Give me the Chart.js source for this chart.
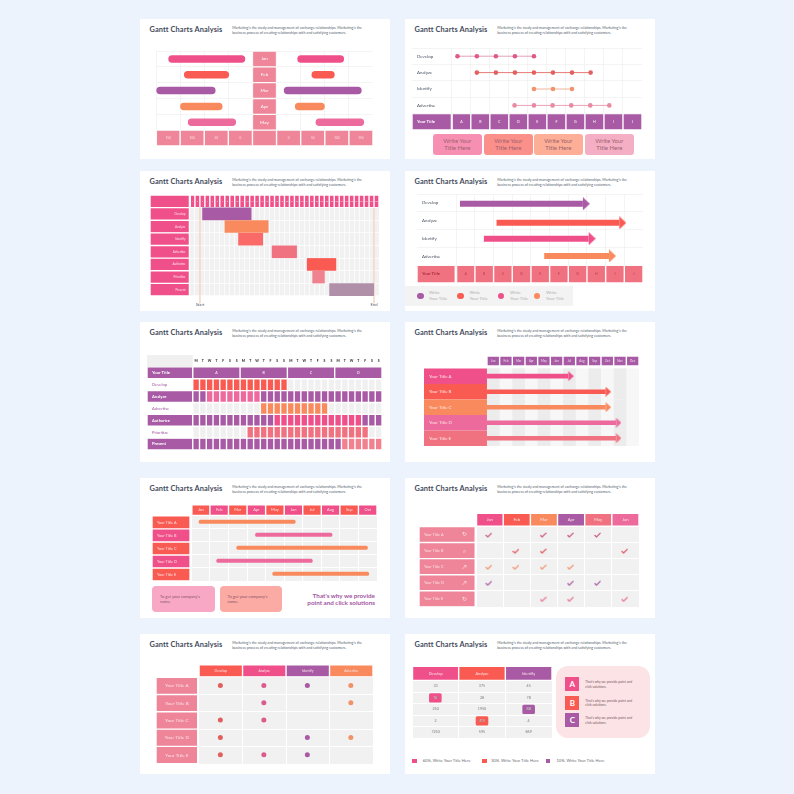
<!DOCTYPE html>
<html>
<head>
<meta charset="utf-8">
<title>Gantt Charts Analysis</title>
<script src="https://cdn.jsdelivr.net/npm/chart.js@4/dist/chart.umd.min.js"></script>
<style>
  html, body { margin: 0; padding: 0; background: #edf3fc; }
  #page { position: relative; width: 794px; height: 794px; overflow: hidden; font-family: Lato, sans-serif; }
  #page canvas { position: absolute; }
  .card, .box { position: absolute; }
  .card { background: #fff; width: 250px; height: 140px; }
  .note { position: absolute; white-space: pre; transform: translateY(-50%); }
</style>
</head>
<body>
<div id="page"></div>
<script>
// slide 1: two sided month bars
const months5 = ['Jan', 'Feb', 'Mar', 'Apr', 'May'];
const sideTicks = ['150', '100', '50', '0', '', '0', '50', '100', '150'];
const leftBars = [[0.51, 3.7], [1.16, 3.03], [0, 2.47], [1, 2.76], [1.32, 3.32]];
const rightBars = [[5.86, 7.8], [6.45, 7.41], [5.3, 8.53], [5.76, 7], [6.62, 8.63]];

// slide 2: milestones
const tasks4 = ['Develop', 'Analyze', 'Identify', 'Advertise'];
const lettersAJ = ['A', 'B', 'C', 'D', 'E', 'F', 'G', 'H', 'I', 'J'];
const developDots = [0.3, 1.32, 2.32, 3.32, 4.32];
const analyzeDots = [1.32, 2.32, 3.32, 4.32, 5.32, 6.32, 7.3];
const identifyDots = [4.32, 5.32, 6.32];
const advertiseDots = [3.3, 4.32, 5.3, 6.28, 7.28, 8.28];

// slide 3: day grid
const days38 = Array.from({ length: 38 }, (_, i) => String(i + 1));
const tasks7 = ['Develop', 'Analyze', 'Identify', 'Advertise', 'Authorize', 'Prioritize', 'Present'];
const dayBars = [[2.47, 12.37], [6.96, 15.79], [9.7, 14.7], [16.45, 21.5], [23.5, 29.4], [24.6, 27.1], [28, 37]];
const startDay = 2;
const endDay = 37;

// slide 4: arrows
const arrowBars = [[0.2, 6.78], [2.16, 8.73], [1.48, 7.09], [4.71, 8.18]];
const arrowRows = [0.55, 1.62, 2.51, 3.48];

// slide 5: weekly cells
const weekDays = 'MTWTFSSMTWTFSSMTWTFSSMTWTFSS'.split('');
const weekGroups = ['A', 'B', 'C', 'D'];
const weekTasks = ['Develop', 'Analyze', 'Advertise', 'Authorize', 'Prioritize', 'Present'];
const weekFrom = [0, 2, 10, 12, 8, 22];
const weekTo = [14, 10, 20, 25, 26, 28];

// slide 6: yearly arrows
const months12 = ['Jan', 'Feb', 'Mar', 'Apr', 'May', 'Jun', 'Jul', 'Aug', 'Sep', 'Oct', 'Nov', 'Dec'];
const titlesAE = ['Your Title A', 'Your Title B', 'Your Title C', 'Your Title D', 'Your Title E'];
const yearArrowEnds = [6.42, 9.37, 9.37, 10.18, 10.18];
const shadedMonths = [0, 2, 4, 6, 8, 10];

// slide 7: thin bars
const months10 = months12.slice(0, 10);
const thinBars = [[0.4, 5.61], [3.44, 7.59], [2.43, 9.5], [1.35, 6.53], [4.37, 9.57]];

// slide 8: check table
const months6 = months12.slice(0, 6);
const rowIcons = ['\u21BB', '\u2315', '\u2197', '\u2197', '\u21BB'];
const checkCols = [[0, 2, 3, 4], [1, 2, 5], [0, 1, 2, 3], [0, 3, 4], [2, 3, 5]];

// slide 9: dot table
const dotRowsDevelop = [0, 2, 3, 4];
const dotRowsAnalyze = [0, 1, 2, 4];
const dotRowsIdentify = [0, 3, 4];
const dotRowsAdvertise = [0, 1, 3];

// slide 10: number table
const tasks3 = ['Develop', 'Analyze', 'Identify'];
const tableDevelop = ['33', '76', '250', '2', '7250'];
const tableAnalyze = ['375', '28', '1950', '670', '595'];
const tableIdentify = ['45', '78', '334', '4', '869'];
const legendShares = ['60%', '30%', '10%'];

const PINK = '#f0508a', CORAL = '#f95b52', PURPLE = '#a85aa5', ORANGE = '#f98a5e';
const PINK2 = '#ec6a9c', SALMON = '#f0717f', ROSE = '#ee8599', GREY = '#f1f1f1';
const FONT = 'Lato, sans-serif';

const page = document.getElementById('page');

// draws the text of each bar inside the bar
const cellText = {
  id: 'cellText',
  afterDatasetsDraw(chart) {
    const ctx = chart.ctx;
    chart.data.datasets.forEach((ds, i) => {
      if (!ds.texts) return;
      chart.getDatasetMeta(i).data.forEach((el, j) => {
        if (!ds.texts[j]) return;
        const { x, y, base } = el.getProps(['x', 'y', 'base'], true);
        const l = Math.min(x, base), r = Math.max(x, base);
        const align = ds.textAlign || 'center';
        const pad = ds.textPad || 0;
        ctx.save();
        ctx.font = (ds.textWeight || 400) + ' ' + (ds.textSize || 4.5) + 'px ' + FONT;
        ctx.fillStyle = ds.textColor || '#fff';
        ctx.textAlign = align;
        ctx.textBaseline = 'middle';
        ctx.fillText(ds.texts[j], align === 'center' ? (l + r) / 2 : align === 'left' ? l + pad : r - pad, y);
        ctx.restore();
      });
    });
  }
};

// grey plot background, so that the white grid shows on it
const plotFill = {
  id: 'plotFill',
  beforeDraw(chart, args, opts) {
    if (!opts.color) return;
    const sx = chart.scales.x, sy = chart.scales.y;
    chart.ctx.fillStyle = opts.color;
    chart.ctx.fillRect(sx.getPixelForValue(opts.x[0]), sy.getPixelForValue(opts.y[0]),
      sx.getPixelForValue(opts.x[1]) - sx.getPixelForValue(opts.x[0]),
      sy.getPixelForValue(opts.y[1]) - sy.getPixelForValue(opts.y[0]));
  }
};

// thickness comes from maxBarThickness, panel() sets it to one row unless given
function bars(ranges, rows, color, extra) {
  return Object.assign({
    type: 'bar', grouped: false, barPercentage: 1000, categoryPercentage: 1, borderSkipped: false,
    data: ranges.map((r, i) => ({ x: r, y: rows[i] })), backgroundColor: color
  }, extra);
}

function dots(xs, ys, color, extra) {
  return Object.assign({
    type: 'scatter', indexAxis: 'x', data: xs.map((x, i) => ({ x, y: ys[i] })),
    pointBackgroundColor: color, pointBorderWidth: 0, pointRadius: 2.5, pointHoverRadius: 2.5, clip: false
  }, extra);
}

const halves = (list) => list.map((_, i) => i + 0.5);
const cell = { borderColor: '#fff', borderWidth: 0.7 };
const spanCells = (from, to) => { const o = []; for (let c = from; c < to; c++) o.push([c, c + 1]); return o; };

function arrowHead(w, h, color) {
  const c = document.createElement('canvas');
  c.width = w * 2; c.height = h;
  const g = c.getContext('2d');
  g.fillStyle = color;
  g.beginPath(); g.moveTo(w, 0); g.lineTo(w * 2, h / 2); g.lineTo(w, h); g.fill();
  return c;
}

function checkMark(color) {
  const c = document.createElement('canvas');
  c.width = 7; c.height = 6;
  const g = c.getContext('2d');
  g.strokeStyle = color; g.lineWidth = 1.2;
  g.beginPath(); g.moveTo(0.6, 3); g.lineTo(2.5, 5); g.lineTo(6.5, 0.8); g.stroke();
  return c;
}

function panel(cfg) {
  const [left, top, width, height] = cfg.box;
  const canvas = document.createElement('canvas');
  canvas.width = width; canvas.height = height;
  canvas.style.left = left + 'px'; canvas.style.top = top + 'px';
  page.appendChild(canvas);
  const rowPx = height / (cfg.y[1] - cfg.y[0]);
  cfg.sets.forEach((s) => { if (s.type === 'bar' && !s.maxBarThickness) s.maxBarThickness = rowPx; });
  const g = cfg.grid;
  const axis = (range, on, lo, hi) => ({
    type: 'linear', min: range[0], max: range[1], offset: false,
    ticks: { display: false, stepSize: 1, autoSkip: false },
    border: { display: false },
    grid: on ? {
      offset: false, drawTicks: false, lineWidth: g.width || 0.7,
      color: (c) => (!c.tick || c.tick.value < lo || c.tick.value > hi || !Number.isInteger(c.tick.value)) ? 'transparent' : g.color
    } : { display: false, offset: false, drawTicks: false }
  });
  new Chart(canvas, {
    type: 'bar',
    data: { datasets: cfg.sets.slice().reverse() }, // first drawn goes last
    plugins: [plotFill, cellText],
    options: {
      responsive: false, animation: false, indexAxis: 'y',
      events: [], layout: { padding: 0, autoPadding: false },
      plugins: { legend: { display: false }, tooltip: { enabled: false }, plotFill: cfg.fill || {} },
      scales: {
        x: axis(cfg.x, !!g, g ? g.xFrom : 0, g ? g.xTo : 0),
        y: Object.assign(axis(cfg.y, !!g, g ? g.yFrom : 0, g ? g.yTo : 0), { reverse: true })
      }
    }
  });
}

function box(x, y, w, h, color, radius) {
  const d = document.createElement('div');
  d.className = 'box';
  d.style.cssText = `left:${x}px;top:${y}px;width:${w}px;height:${h}px;background:${color};border-radius:${radius || 0}px`;
  page.appendChild(d);
}

function note(x, y, text, size, color, extra) {
  const d = document.createElement('div');
  d.className = 'note';
  d.textContent = text;
  d.style.cssText = `left:${x}px;top:${y}px;font-size:${size}px;color:${color};line-height:1.3;${extra || ''}`;
  page.appendChild(d);
}

// cards and their headings
const cardX = [140, 405];
const cardY = [19, 171, 322, 478, 634];
cardY.forEach((y) => cardX.forEach((x) => {
  const d = document.createElement('div');
  d.className = 'card';
  d.style.left = x + 'px'; d.style.top = y + 'px';
  page.appendChild(d);
  note(x + 9.5, y + 11, 'Gantt Charts Analysis', 7.4, '#3f4b5c', 'font-weight:700;letter-spacing:.1px');
  note(x + 92.3, y + 10.8, "Marketing's the study and management of exchange relationships. Marketing's the\nbusiness process of creating relationships with and satisfying customers.", 3.62, '#55606e', 'line-height:5px');
}));

// slide 1
panel({
  box: [156, 51, 217, 95], x: [0, 9], y: [0, 6],
  grid: { color: '#efefef', xFrom: 0, xTo: 9, yFrom: 0, yTo: 6 },
  sets: [
    bars(months5.map(() => [4, 5]), halves(months5), ROSE, Object.assign({ texts: months5, textSize: 4.6 }, cell)),
    bars(sideTicks.map((_, i) => [i, i + 1]), sideTicks.map(() => 5.5), ROSE, Object.assign({ texts: sideTicks, textSize: 3, textColor: '#fbdfe5' }, cell)),
    bars(leftBars, halves(months5), [PINK, CORAL, PURPLE, ORANGE, PINK2], { maxBarThickness: 7.5, borderRadius: 4 }),
    bars(rightBars, halves(months5), [PINK, CORAL, PURPLE, ORANGE, PINK2], { maxBarThickness: 7.5, borderRadius: 4 })
  ]
});

// slide 2
const lineDots = (xs, row, color, line) => dots(xs, xs.map(() => row), color, { showLine: true, borderColor: line, borderWidth: 1, pointRadius: 2.3 });
panel({
  box: [412, 48, 230, 82], x: [-2.09, 10], y: [0, 5],
  grid: { color: '#efefef', xFrom: 0, xTo: 10, yFrom: 0, yTo: 5 },
  sets: [
    bars(tasks4.map(() => [-2.09, 0]), halves(tasks4), 'transparent', { texts: tasks4, textAlign: 'left', textPad: 5, textSize: 4.4, textColor: '#46505e' }),
    bars(lettersAJ.map((_, i) => [i, i + 1]), lettersAJ.map(() => 4.5), PURPLE, Object.assign({ texts: lettersAJ, textSize: 3.6 }, cell)),
    bars([[-2.09, 0]], [4.5], PURPLE, Object.assign({ texts: ['Your Title'], textSize: 4.2, textWeight: 700, textAlign: 'left', textPad: 5 }, cell)),
    lineDots(developDots, 0.5, '#e0588a', '#e3a0ba'),
    lineDots(analyzeDots, 1.5, '#e4605f', '#e77a78'),
    lineDots(identifyDots, 2.5, '#f0936a', '#f2b398'),
    lineDots(advertiseDots, 3.5, '#e88aa0', '#eaa3b4')
  ]
});
[[433, '#f78fb3'], [484, '#fb8f8a'], [534, '#fcae96'], [585, '#f5afc5']].forEach(([x, color]) => {
  box(x, 133.5, 48.7, 21.5, color, 3);
  note(x, 144.2, 'Write Your\nTitle Here', 6, '#a0616e', 'width:48.7px;text-align:center;line-height:7.3px');
});

// slide 3
panel({
  box: [150, 195, 229, 114], x: [-8.03, 38], y: [0, 9.03],
  fill: { color: GREY, x: [0, 38], y: [1, 8] },
  grid: { color: '#fff', xFrom: 0, xTo: 38, yFrom: 1, yTo: 8 },
  sets: [
    bars(days38.map((_, i) => [i, i + 1]), days38.map(() => 0.5), PINK, Object.assign({ texts: days38, textSize: 2.2, textColor: '#fcd4e2' }, cell)),
    bars([[-8.03, -0.1]], [0.5], PINK, cell),
    bars(tasks7.map(() => [-8.03, -0.1]), tasks7.map((_, i) => i + 1.5), PINK, Object.assign({ texts: tasks7, textSize: 3, textAlign: 'right', textPad: 4, textColor: '#fde3ec' }, cell)),
    dots([startDay, startDay], [1, 8.6], '#f4c7b0', { showLine: true, borderColor: '#f6d8c8', borderWidth: 0.8, pointRadius: 0 }),
    dots([endDay, endDay], [1, 8.6], '#f4c7b0', { showLine: true, borderColor: '#f6d8c8', borderWidth: 0.8, pointRadius: 0 }),
    bars(dayBars, tasks7.map((_, i) => i + 1.5), [PURPLE, ORANGE, '#fa6a68', SALMON, CORAL, '#f0818f', '#b08fa8']),
    bars([[startDay - 2, startDay + 2], [endDay - 1, endDay + 1]], [8.72, 8.72], 'transparent', { texts: ['Start', 'End'], textSize: 4.2, textColor: '#555f6c' })
  ]
});

// slide 4
const arrowColors = [PURPLE, CORAL, PINK, ORANGE];
panel({
  box: [417, 194, 226, 89], x: [-2.1, 10], y: [0, 5],
  grid: { color: '#efefef', xFrom: 0, xTo: 10, yFrom: 0, yTo: 5 },
  sets: [
    bars(tasks4.map(() => [-2.1, 0]), halves(tasks4), 'transparent', { texts: tasks4, textAlign: 'left', textPad: 5, textSize: 4.4, textColor: '#46505e' }),
    bars(lettersAJ.map((_, i) => [i, i + 1]), lettersAJ.map(() => 4.5), SALMON, Object.assign({ texts: lettersAJ, textSize: 3.6, textColor: '#b8404e' }, cell)),
    bars([[-2.1, -0.05]], [4.5], SALMON, Object.assign({ texts: ['Your Title'], textSize: 4.2, textWeight: 700, textAlign: 'left', textPad: 5, textColor: '#a8303e' }, cell)),
    bars(arrowBars, arrowRows, arrowColors, { maxBarThickness: 6 }),
    ...arrowBars.map((b, i) => dots([b[1]], [arrowRows[i]], arrowColors[i], { pointStyle: arrowHead(7, 13, arrowColors[i]), pointRadius: 3 }))
  ]
});
box(405, 286.3, 167.7, 20, '#f3f3f3');
[[420.3, 429, PURPLE], [460.7, 469.5, CORAL], [501, 510, PINK], [537, 546, ORANGE]].forEach(([x, tx, color]) => {
  box(x - 3.3, 292.7, 6.6, 6.6, color, 4);
  note(tx, 296, 'Write\nYour Title', 4.4, '#b0b0b0');
});

// slide 5
const darkWeekRows = [1, 3, 5];
const weekColors = [CORAL, PINK2, ORANGE, PINK, SALMON, '#f0818f'];
panel({
  box: [147, 355, 235, 95], x: [-6.77, 28], y: [0, 8],
  sets: [
    bars([[-6.77, 0]], [0.5], '#f0f0f0'),
    bars(weekDays.map((_, i) => [i, i + 1]), weekDays.map(() => 0.5), 'transparent', { texts: weekDays, textSize: 3.4, textWeight: 900, textColor: '#333' }),
    bars([[-6.77, 0]], [1.5], PURPLE, Object.assign({ texts: ['Your Title'], textSize: 4.2, textWeight: 700, textAlign: 'left', textPad: 5 }, cell)),
    bars(weekGroups.map((_, i) => [i * 7, i * 7 + 7]), weekGroups.map(() => 1.5), PURPLE, Object.assign({ texts: weekGroups, textSize: 3.6 }, cell)),
    ...weekTasks.map((name, r) => {
      const dark = darkWeekRows.includes(r);
      return bars([[-6.77, 0]], [r + 2.5], dark ? PURPLE : 'transparent', Object.assign({ texts: [name], textSize: 4.1, textWeight: dark ? 700 : 400, textAlign: 'left', textPad: 5, textColor: dark ? '#fff' : '#a2559f' }, cell));
    }),
    ...weekTasks.map((_, r) => {
      const row = spanCells(0, 28);
      return bars(row, row.map(() => r + 2.5), row.map((c) => (c[0] >= weekFrom[r] && c[0] < weekTo[r]) ? weekColors[r] : (darkWeekRows.includes(r) ? PURPLE : '#f0f0f0')), cell);
    })
  ]
});

// slide 6
const yearColors = [PINK, CORAL, ORANGE, PINK2, SALMON];
panel({
  box: [424, 356, 215, 90], x: [-4.97, 12], y: [-0.8, 5],
  fill: { color: '#f7f7f7', x: [0, 12], y: [0, 5] },
  sets: [
    ...shadedMonths.map((m) => bars(titlesAE.map(() => [m, m + 1]), halves(titlesAE), '#ececec')),
    bars(months12.map((_, i) => [i, i + 1]), months12.map(() => -0.48), PURPLE, Object.assign({ texts: months12, textSize: 3, maxBarThickness: 10, textColor: '#f3dff2' }, cell)),
    bars(titlesAE.map(() => [-4.97, 0]), halves(titlesAE), yearColors, { texts: titlesAE, textSize: 4.4, textAlign: 'left', textPad: 5, textColor: '#fde9e4' }),
    bars(yearArrowEnds.map((e) => [0, e]), halves(titlesAE), yearColors, { maxBarThickness: 4.6 }),
    ...yearArrowEnds.map((e, i) => dots([e], [i + 0.5], yearColors[i], { pointStyle: arrowHead(5.5, 10, yearColors[i]), pointRadius: 3 }))
  ]
});

// slide 7
const altColors = [CORAL, PINK];
const alternate = (list) => list.map((_, i) => altColors[i % 2]);
panel({
  box: [152, 505, 225, 76], x: [-2.12, 10], y: [-0.835, 5],
  fill: { color: GREY, x: [0, 10], y: [0, 5] },
  grid: { color: '#fff', xFrom: 0, xTo: 10, yFrom: 0, yTo: 5, width: 1 },
  sets: [
    bars(months10.map((_, i) => [i, i + 1]), months10.map(() => -0.44), alternate(months10), Object.assign({ texts: months10, textSize: 4, maxBarThickness: 10.5, textColor: '#fde3e3' }, cell)),
    bars(titlesAE.map(() => [-2.12, -0.07]), halves(titlesAE), alternate(titlesAE), Object.assign({ texts: titlesAE, textSize: 3.8, textAlign: 'left', textPad: 5, textColor: '#fde3e3' }, cell)),
    bars(thinBars, halves(titlesAE).map((v) => v - 0.05), [ORANGE, PINK2, ORANGE, PINK2, ORANGE], { maxBarThickness: 4, borderRadius: 1.5 })
  ]
});
box(152.3, 586.3, 62.4, 25.7, '#f8a8c4', 4);
box(219.7, 586.3, 62.6, 25.7, '#fcaaa4', 4);
note(160, 599, "To get your company's\nname.", 4.1, '#8a5668');
note(227.5, 599, "To get your company's\nname.", 4.1, '#8a5668');
note(260, 599.6, "That's why we provide\npoint and click solutions", 6.3, '#a2559f', 'width:115px;text-align:right;font-weight:700;line-height:1.22');

// slide 8
const headColors8 = [PINK, CORAL, ORANGE, PURPLE, SALMON, PINK2];
const checkColors = ['#c9577f', '#e0555f', '#f0936a', '#a85aa5', '#e8708a'];
panel({
  box: [419, 513, 220, 94], x: [-2.1, 6], y: [-0.84, 5.01],
  fill: { color: GREY, x: [0, 6], y: [0, 5.01] },
  grid: { color: '#fff', xFrom: 0, xTo: 6, yFrom: 0, yTo: 5, width: 1 },
  sets: [
    bars(months6.map((_, i) => [i, i + 1]), months6.map(() => -0.42), headColors8, Object.assign({ texts: months6, textSize: 4.2, maxBarThickness: 13, textColor: '#fde3e3' }, cell)),
    bars(titlesAE.map(() => [-2.1, -0.03]), halves(titlesAE), ROSE, Object.assign({ texts: titlesAE, textSize: 3.8, textAlign: 'left', textPad: 5, textColor: '#fde3e3' }, cell)),
    bars(titlesAE.map(() => [-0.55, -0.3]), halves(titlesAE), 'transparent', { texts: rowIcons, textSize: 6, textColor: '#fbe3e8' }),
    ...checkCols.map((cols, r) => dots(cols.map((c) => c + 0.47), cols.map(() => r + 0.53), checkColors[r], { pointStyle: checkMark(checkColors[r]), pointRadius: 3 }))
  ]
});

// slide 9
const rowsToPoints = (rows, col, color) => dots(rows.map(() => col + 0.49), rows.map((r) => r + 0.48), color);
panel({
  box: [156, 665, 217, 99], x: [-0.99, 4], y: [-0.71, 5.02],
  fill: { color: GREY, x: [0, 4], y: [0, 5.02] },
  grid: { color: '#fff', xFrom: 0, xTo: 4, yFrom: 0, yTo: 5, width: 1 },
  sets: [
    bars(tasks4.map((_, i) => [i, i + 1]), tasks4.map(() => -0.37), [CORAL, PINK, PURPLE, ORANGE], Object.assign({ texts: tasks4, textSize: 3.4, maxBarThickness: 12, textColor: '#fde3e3' }, cell)),
    bars(titlesAE.map(() => [-0.99, -0.03]), halves(titlesAE), ROSE, Object.assign({ texts: titlesAE, textSize: 4.6, textColor: '#fde3e8' }, cell)),
    rowsToPoints(dotRowsDevelop, 0, '#e0605f'),
    rowsToPoints(dotRowsAnalyze, 1, '#dc5a8c'),
    rowsToPoints(dotRowsIdentify, 2, PURPLE),
    rowsToPoints(dotRowsAdvertise, 3, '#f0936a')
  ]
});

// slide 10
const tableCols = [tableDevelop, tableAnalyze, tableIdentify];
panel({
  box: [412, 666, 140, 72], x: [0, 3], y: [-1.27, 5],
  fill: { color: GREY, x: [0, 3], y: [0, 5] },
  grid: { color: '#fff', xFrom: 0, xTo: 3, yFrom: 0, yTo: 5, width: 1 },
  sets: [
    bars(tasks3.map((_, i) => [i, i + 1]), tasks3.map(() => -0.63), [PINK, CORAL, PURPLE], Object.assign({ texts: tasks3, textSize: 3.8, maxBarThickness: 14, textColor: '#fde3e3' }, cell)),
    ...tableCols.map((col, c) => bars(col.map(() => [c, c + 1]), halves(col), 'transparent', { texts: col, textSize: 3.6, textColor: '#7a7a7a' })),
    bars([[0.365, 0.635]], [1.5], PINK, { maxBarThickness: 9.3, borderRadius: 1.5, texts: ['76'], textSize: 3.2 }),
    bars([[1.365, 1.635]], [3.5], CORAL, { maxBarThickness: 9.3, borderRadius: 1.5, texts: ['670'], textSize: 3.2 }),
    bars([[2.365, 2.635]], [2.5], PURPLE, { maxBarThickness: 9.3, borderRadius: 1.5, texts: ['334'], textSize: 3.2 })
  ]
});
box(556, 666, 94, 72.4, '#fbe3e6', 12);
[['A', PINK, 684.4], ['B', CORAL, 702.7], ['C', PURPLE, 720.3]].forEach(([t, color, y]) => {
  box(565.3, y - 7, 14, 14, color);
  note(565.3, y, t, 8, '#fff', 'width:14px;text-align:center;font-weight:700');
  note(585.3, y, "That's why we provide point and\nclick solutions.", 3.3, '#7a5a62');
});
legendShares.forEach((share, i) => {
  const x = [412, 482, 545.5][i];
  box(x, 758.5, 4.5, 4.5, [PINK, CORAL, PURPLE][i]);
  note([422.7, 491, 556.5][i], 760.7, share + ', Write Your Title Here', 4.1, '#6a6a72');
});
</script>
</body>
</html>
